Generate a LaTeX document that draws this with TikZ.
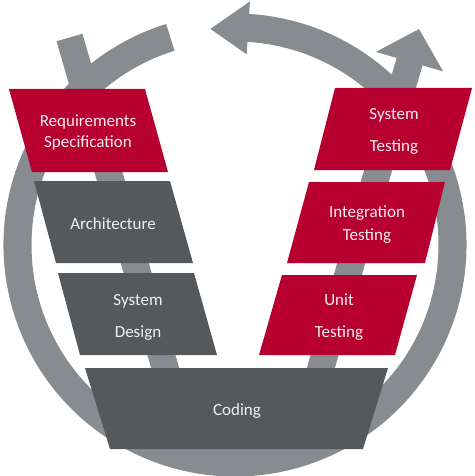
\documentclass[tikz,border=0pt]{standalone}
\usepackage{fontspec}
\setmainfont{Carlito}
\usetikzlibrary{arrows.meta,calc}
\definecolor{vred}{RGB}{183,0,48}
\definecolor{vdark}{RGB}{85,89,92}
\definecolor{vgrey}{RGB}{134,140,143}
\tikzset{
	redbox/.style={fill=vred},
	darkbox/.style={fill=vdark},
	boxtext/.style={text=white!94!black,align=center,font=\fontsize{17}{21}\selectfont},
	leg/.style={draw=vgrey,line width=27pt},
	ring/.style={fill=vgrey}
}
\begin{document}
\begin{tikzpicture}[x=1pt,y=-1pt]
	\useasboundingbox (0,0) rectangle (474,476);
	\coordinate (c) at (235,245); % centre of the cycle
	
	% circular arrow
	\fill[ring] ($(c)+(-107.3:231.5)$) arc[start angle=-107.3,end angle=-446.5,radius=231.5]
		-- ($(c)+(-446.5:244)$) -- ($(c)+(-456.5:217.5)$) -- ($(c)+(-446.5:191)$)
		-- ($(c)+(-446.5:203.5)$) arc[start angle=-446.5,end angle=-107.3,radius=203.5] -- cycle;
	
	% legs of the V
	\coordinate (lb) at (186,440);
	\coordinate (lt) at (69.5,37.5);
	\coordinate (rb) at (300,440);
	\coordinate (rt) at (419,29);
	\draw[leg] (lb) -- (lt);
	\draw[leg,-{Triangle[length=34pt,width=68pt]}] (rb) -- (rt);
	
	% left side
	\fill[redbox] (9,89) -- (145,89) -- (168,172) -- (32,172) -- cycle;
	\fill[darkbox] (34,181) -- (170,181) -- (193,263) -- (56,263) -- cycle;
	\fill[darkbox] (58,273) -- (194,273) -- (217,355) -- (80,355) -- cycle;
	% bottom
	\fill[darkbox] (85,368) -- (388,368) -- (363,449) -- (110,449) -- cycle;
	% right side
	\fill[redbox] (335,88) -- (472,88) -- (450,170) -- (314,170) -- cycle;
	\fill[redbox] (309,182) -- (445,182) -- (425,263) -- (287,263) -- cycle;
	\fill[redbox] (282,275) -- (417,275) -- (395,355) -- (259,355) -- cycle;
	
	\node[boxtext] (req) at (88,133) {Requirements\\Specification};
	\node[boxtext] (arch) at (113,224) {Architecture};
	\node[boxtext] (sdes) at (138,317) {System\\[11pt]Design};
	\node[boxtext] (code) at (237,411) {Coding};
	\node[boxtext] (stest) at (394,131) {System\\[11pt]Testing};
	\node[boxtext] (itest) at (367,225) {Integration\\[2pt]Testing};
	\node[boxtext] (utest) at (339,317) {Unit\\[11pt]Testing};
\end{tikzpicture}
\end{document}
